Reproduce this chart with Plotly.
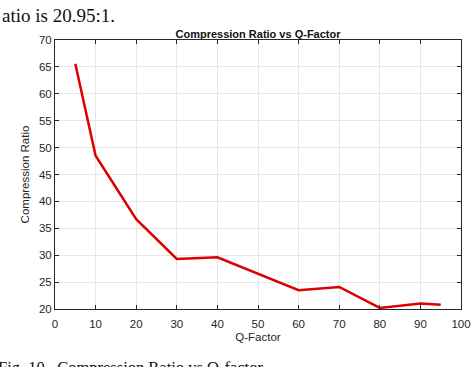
import plotly.graph_objects as go

q_factor = [5, 10, 20, 30, 40, 50, 60, 70, 80, 90, 95]
comp_ratio = [65.6, 48.5, 36.7, 29.3, 29.6, 26.5, 23.5, 24.1, 20.2, 21.0, 20.8]
x_ticks = [0, 10, 20, 30, 40, 50, 60, 70, 80, 90, 100]
y_ticks = [20, 25, 30, 35, 40, 45, 50, 55, 60, 65, 70]

fig = go.Figure()
fig.add_trace(go.Scatter(x=q_factor, y=comp_ratio, mode="lines",
                         line=dict(color="#dc0000", width=2.5)))

axis_common = dict(showline=True, linecolor="#262626", linewidth=1, mirror="ticks",
                   ticks="inside", ticklen=4, tickcolor="#262626",
                   showgrid=True, gridcolor="#e6e6e6", gridwidth=1, zeroline=False,
                   automargin=False,
                   tickfont=dict(family="Liberation Sans, Arial", size=11.5, color="#262626"))

fig.update_layout(
    width=474, height=367,
    margin=dict(l=55, r=13, t=40, b=58, autoexpand=False),
    paper_bgcolor="white", plot_bgcolor="white",
    showlegend=False,
    title=dict(text="<b>Compression Ratio vs Q-Factor</b>", x=0.5, xref="paper",
               y=1, yref="paper", yanchor="bottom", pad=dict(b=2), automargin=False,
               font=dict(family="Liberation Sans, Arial", size=11, color="#111")),
    xaxis=dict(range=[0, 100], tickvals=x_ticks, ticklabelstandoff=4, **axis_common,
               title=dict(text="Q-Factor", standoff=4,
                          font=dict(family="Liberation Sans, Arial", size=11.5, color="#262626"))),
    yaxis=dict(range=[20, 70], tickvals=y_ticks, **axis_common,
               title=dict(text="Compression Ratio", standoff=6,
                          font=dict(family="Liberation Sans, Arial", size=11.5, color="#262626"))),
)

fig.add_annotation(text="atio is 20.95:1.", xref="paper", yref="paper",
                   x=0, y=1, xanchor="left", yanchor="bottom", xshift=-55, yshift=12,
                   showarrow=False,
                   font=dict(family="Liberation Serif, Times New Roman", size=19, color="#111"))
fig.add_annotation(text="Fig. 10.  Compression Ratio vs Q-factor.", xref="paper", yref="paper",
                   x=0, y=0, xanchor="left", yanchor="top", xshift=-59, yshift=-47,
                   showarrow=False,
                   font=dict(family="Liberation Serif, Times New Roman", size=16.5, color="#111"))

fig.write_html("out.html", config={"displayModeBar": False},
               post_script="document.body.style.margin='0';document.body.style.overflow='hidden';")
